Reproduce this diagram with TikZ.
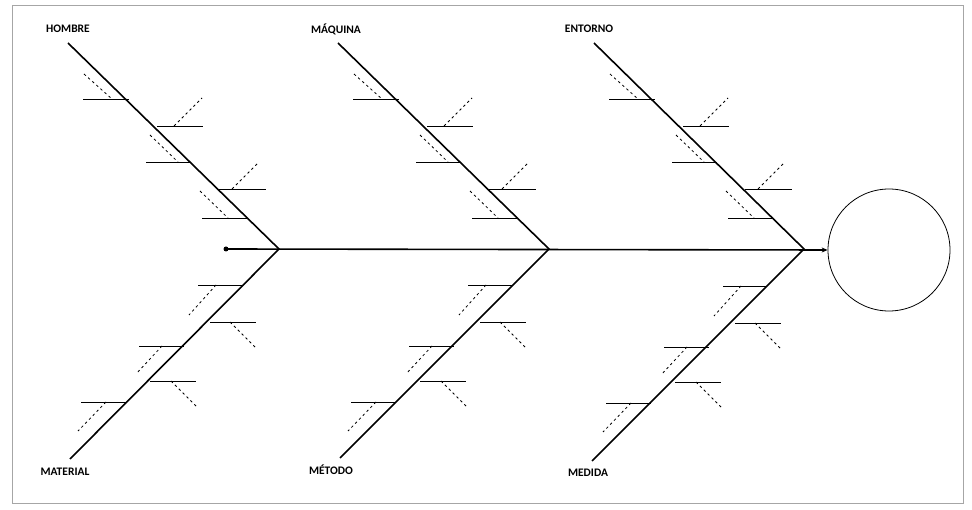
\documentclass[tikz,border=0pt]{standalone}
\usepackage{fontspec}
\setmainfont{Carlito}
\usetikzlibrary{arrows.meta}
\tikzset{bone/.style={line width=1.6pt},sub/.style={line width=0.8pt},dsh/.style={line width=0.8pt,dash pattern=on 2.5pt off 3pt},lbl/.style={font=\bfseries\fontsize{11.5}{13}\selectfont,inner sep=0}}
\newcommand{\topsubs}{%
 \draw[sub] (-196,-150)--(-150,-150); \draw[dsh] (-195,-175)--(-167,-150);
 \draw[sub] (-133,-87)--(-88,-87); \draw[dsh] (-129,-114)--(-101,-87);
 \draw[sub] (-77,-31)--(-31,-31); \draw[dsh] (-79,-58)--(-51,-31);
 \draw[sub] (-122,-123)--(-76,-123); \draw[dsh] (-105,-123)--(-77,-151);
 \draw[sub] (-60,-60)--(-13,-60); \draw[dsh] (-47,-60)--(-20,-87);}
\newcommand{\botsubs}{%
 \draw[sub] (-81,36)--(-37,36); \draw[dsh] (-63,36)--(-90,66);
 \draw[sub] (-140,97)--(-95,97); \draw[dsh] (-117,97)--(-143,125);
 \draw[sub] (-198,153)--(-153,153); \draw[dsh] (-173,153)--(-201,182);
 \draw[sub] (-69,73)--(-23,73); \draw[dsh] (-49,73)--(-22,100);
 \draw[sub] (-129,132)--(-83,132); \draw[dsh] (-108,132)--(-81,159);}
\begin{document}
\begin{tikzpicture}[x=1pt,y=-1pt]
\useasboundingbox (0,0) rectangle (972,510);
\draw[gray!70,line width=0.8pt] (12,5) rectangle (963,503);
\coordinate (s) at (226,249);
\coordinate (j1) at (279,249);
\coordinate (j2) at (549,249);
\coordinate (j3) at (804,249);
\node[circle,draw,line width=0.8pt,minimum size=122pt,inner sep=0] (eff) at (889,250) {};
\fill (s) circle (2.5pt);
\draw[bone,-{Stealth[length=6pt,width=5pt]}] (s) -- (eff.west);
\coordinate (h) at (68,43); \coordinate (m) at (338,43); \coordinate (e) at (594,43);
\coordinate (ma) at (70,459); \coordinate (me) at (340,458); \coordinate (md) at (592,461);
\draw[bone] (h)--(j1)--(ma);
\draw[bone] (m)--(j2)--(me);
\draw[bone] (e)--(j3)--(md);
\begin{scope}[shift={(279,249)}]\topsubs\botsubs\end{scope}
\begin{scope}[shift={(549,249)}]\topsubs\botsubs\end{scope}
\begin{scope}[shift={(805,249)}]\topsubs\end{scope}
\begin{scope}[shift={(804,250)}]\botsubs\end{scope}
\node[lbl] (lh) at (68,29) {HOMBRE};
\node[lbl] (lm) at (336,29) {MÁQUINA};
\node[lbl] (le) at (589,29) {ENTORNO};
\node[lbl] (lma) at (65,472) {MATERIAL};
\node[lbl] (lme) at (331,470) {MÉTODO};
\node[lbl] (lmd) at (588,473) {MEDIDA};
\end{tikzpicture}
\end{document}
